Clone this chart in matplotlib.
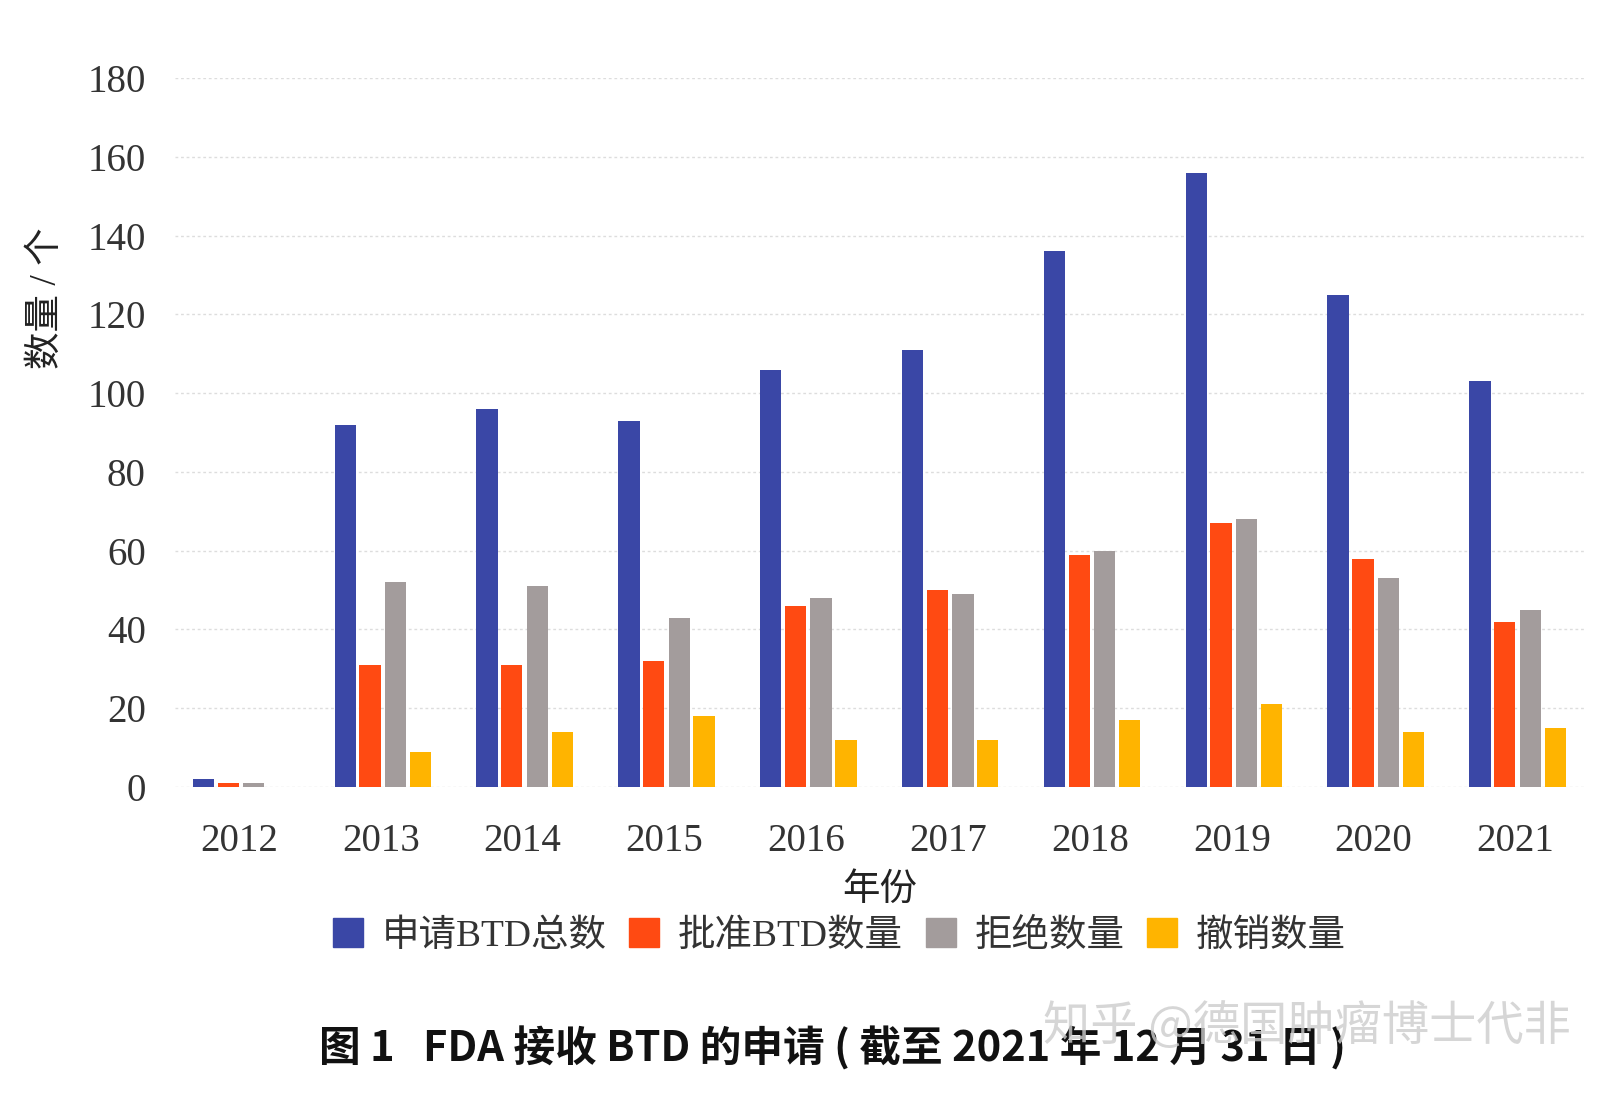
import numpy as np
import matplotlib.pyplot as plt
from matplotlib.patches import Patch

# data
years = ['2012', '2013', '2014', '2015', '2016', '2017', '2018', '2019', '2020', '2021']
total = [2, 92, 96, 93, 106, 111, 136, 156, 125, 103]
approved = [1, 31, 31, 32, 46, 50, 59, 67, 58, 42]
denied = [1, 52, 51, 43, 48, 49, 60, 68, 53, 45]
withdrawn = [0, 9, 14, 18, 12, 12, 17, 21, 14, 15]

series_names = ['申请BTD总数', '批准BTD数量', '拒绝数量', '撤销数量']
colors = ['#3a47a6', '#ff4a12', '#a39c9c', '#ffb400']

serif = ['Liberation Serif', 'Noto Sans CJK SC']
cjk_sans = ['Noto Sans CJK SC', 'DejaVu Sans']

fig = plt.figure(figsize=(16.14, 10.96), dpi=100)
ax = fig.add_axes([0.1084, 0.2819, 0.8736, 0.6469])

x = np.arange(len(years))
offsets = [-0.25, -0.075, 0.105, 0.28]
w = 0.15
for vals, off, c in zip([total, approved, denied, withdrawn], offsets, colors):
    ax.bar(x + off, vals, width=w, color=c, zorder=2)

ax.set_xlim(-0.45, 9.49)
ax.set_ylim(0, 180)
ax.set_yticks(range(0, 181, 20))
ax.set_xticks(x)
ax.set_xticklabels(years)
for lab in ax.get_xticklabels() + ax.get_yticklabels():
    lab.set_family(serif)
    lab.set_fontsize(28)
    lab.set_color('#333333')
ax.tick_params(axis='both', length=0)
ax.tick_params(axis='x', pad=26)
ax.tick_params(axis='y', pad=21)
ax.grid(axis='y', color='#dddddd', linestyle=(0, (2, 2)), linewidth=1, zorder=0)
for s in ax.spines.values():
    s.set_visible(False)

fig.text(0.029, 0.728, '数量 / 个', rotation=90, ha='center', va='center',
         fontsize=27, family=serif, color='#222222')
fig.text(0.545, 0.187, '年份', ha='center', va='center',
         fontsize=27, family=serif, color='#222222')

handles = [Patch(color=c) for c in colors]
fig.legend(handles, series_names, loc='center', bbox_to_anchor=(0.52, 0.146),
           ncol=4, frameon=False, handlelength=0.8, handleheight=0.8,
           handletextpad=0.5, columnspacing=0.6,
           prop={'family': serif, 'size': 27}, labelcolor='#333333')

fig.text(0.516, 0.043, '图 1   FDA 接收 BTD 的申请 ( 截至 2021 年 12 月 31 日 )',
         ha='center', va='center', fontsize=30, fontweight='bold',
         family=cjk_sans, color='#111111')
fig.text(0.81, 0.063, '知乎 @德国肿瘤博士代非', ha='center', va='center',
         fontsize=34, family=cjk_sans, color='#cccccc', alpha=0.8)

fig.savefig('out.png', dpi=100)
